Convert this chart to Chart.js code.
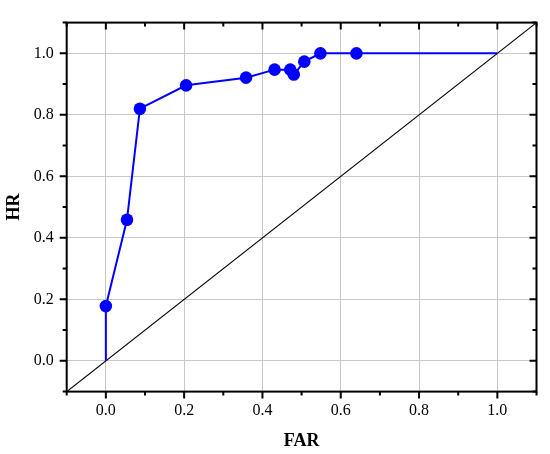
<!DOCTYPE html>
<html>
<head>
<meta charset="utf-8">
<script src="https://cdn.jsdelivr.net/npm/chart.js@4.4.1/dist/chart.umd.min.js"></script>
<style>
  html, body { margin: 0; padding: 0; background: #fff; }
  #wrap { width: 550px; height: 454px; position: relative; }
</style>
</head>
<body>
<div id="wrap"><canvas id="c"></canvas></div>
<script>
// ROC curve data
const far = [0, 0, 0.054, 0.087, 0.205, 0.358, 0.431, 0.471, 0.480, 0.507, 0.548, 0.640, 1.0];
const hr  = [0, 0.178, 0.459, 0.820, 0.896, 0.921, 0.947, 0.947, 0.931, 0.973, 1.0, 1.0, 1.0];
const markerShown = [false, true, true, true, true, true, true, true, true, true, true, true, false];

// Reference (chance) diagonal
const diagX = [-0.1, 1.1];
const diagY = [-0.1, 1.1];

// Axes
const xRange = [-0.1, 1.1];
const yRange = [-0.1, 1.1];
const xTicks = [0.0, 0.2, 0.4, 0.6, 0.8, 1.0];
const yTicks = [0.0, 0.2, 0.4, 0.6, 0.8, 1.0];
const xMinor = [-0.1, 0.1, 0.3, 0.5, 0.7, 0.9, 1.1];
const yMinor = [-0.1, 0.1, 0.3, 0.5, 0.7, 0.9, 1.1];

const FONT = "'Liberation Serif', 'Times New Roman', serif";

const framePlugin = {
  id: 'frame',
  afterDatasetsDraw(chart) {
    const ctx = chart.ctx;
    const a = chart.chartArea;
    const xs = chart.scales.x, ys = chart.scales.y;
    ctx.save();
    ctx.strokeStyle = '#000';
    ctx.lineWidth = 2;
    ctx.lineCap = 'butt';
    ctx.strokeRect(a.left, a.top, a.right - a.left, a.bottom - a.top);
    const major = 7, minor = 4;
    ctx.beginPath();
    const drawX = (v, len) => {
      const px = xs.getPixelForValue(v);
      ctx.moveTo(px, a.bottom); ctx.lineTo(px, a.bottom + len);   // outward bottom
      ctx.moveTo(px, a.top); ctx.lineTo(px, a.top + len);         // inward top
    };
    const drawY = (v, len) => {
      const py = ys.getPixelForValue(v);
      ctx.moveTo(a.left, py); ctx.lineTo(a.left - len, py);       // outward left
      ctx.moveTo(a.right, py); ctx.lineTo(a.right - len, py);     // inward right
    };
    xTicks.forEach(v => drawX(v, major));
    xMinor.forEach(v => drawX(v, minor));
    yTicks.forEach(v => drawY(v, major));
    yMinor.forEach(v => drawY(v, minor));
    ctx.stroke();
    ctx.restore();
  }
};

new Chart(document.getElementById('c'), {
  type: 'scatter',
  data: {
    datasets: [
      {
        label: 'ROC',
        data: far.map((x, i) => ({ x: x, y: hr[i] })),
        showLine: true,
        borderColor: '#0000ff',
        backgroundColor: '#0000ff',
        borderWidth: 2,
        pointRadius: markerShown.map(m => m ? 6.3 : 0),
        pointHoverRadius: markerShown.map(m => m ? 6.3 : 0),
        pointBorderWidth: 0,
        pointBackgroundColor: '#0000ff',
        order: 0
      },
      {
        label: 'Diagonal',
        data: diagX.map((x, i) => ({ x: x, y: diagY[i] })),
        showLine: true,
        borderColor: '#000000',
        borderWidth: 1.2,
        pointRadius: 0,
        order: 1
      }
    ]
  },
  options: {
    responsive: true,
    maintainAspectRatio: false,
    animation: false,
    layout: { padding: { left: 0, top: 13, right: 13.5, bottom: 0 } },
    plugins: {
      legend: { display: false },
      tooltip: { enabled: false }
    },
    scales: {
      x: {
        type: 'linear',
        min: xRange[0],
        max: xRange[1],
        afterBuildTicks: s => { s.ticks = xTicks.map(v => ({ value: v })); },
        afterFit: s => { s.height = 62.4; },
        grid: { color: '#c8c8c8', lineWidth: 1, drawTicks: false },
        border: { display: false },
        ticks: {
          color: '#000',
          font: { family: FONT, size: 16 },
          padding: 9.5,
          maxRotation: 0,
          callback: v => Number(v).toFixed(1)
        },
        title: {
          display: true,
          text: 'FAR',
          color: '#000',
          font: { family: FONT, size: 18, weight: 'bold' },
          padding: { top: 0, bottom: 1.5 }
        }
      },
      y: {
        type: 'linear',
        min: yRange[0],
        max: yRange[1],
        afterBuildTicks: s => { s.ticks = yTicks.map(v => ({ value: v })); },
        afterFit: s => { s.width = 66.7; },
        grid: { color: '#c8c8c8', lineWidth: 1, drawTicks: false },
        border: { display: false },
        ticks: {
          color: '#000',
          font: { family: FONT, size: 16 },
          padding: 13,
          callback: v => Number(v).toFixed(1)
        },
        title: {
          display: true,
          text: 'HR',
          color: '#000',
          font: { family: FONT, size: 18, weight: 'bold' },
          padding: { top: 4, bottom: 0 }
        }
      }
    }
  },
  plugins: [framePlugin]
});
</script>
</body>
</html>
